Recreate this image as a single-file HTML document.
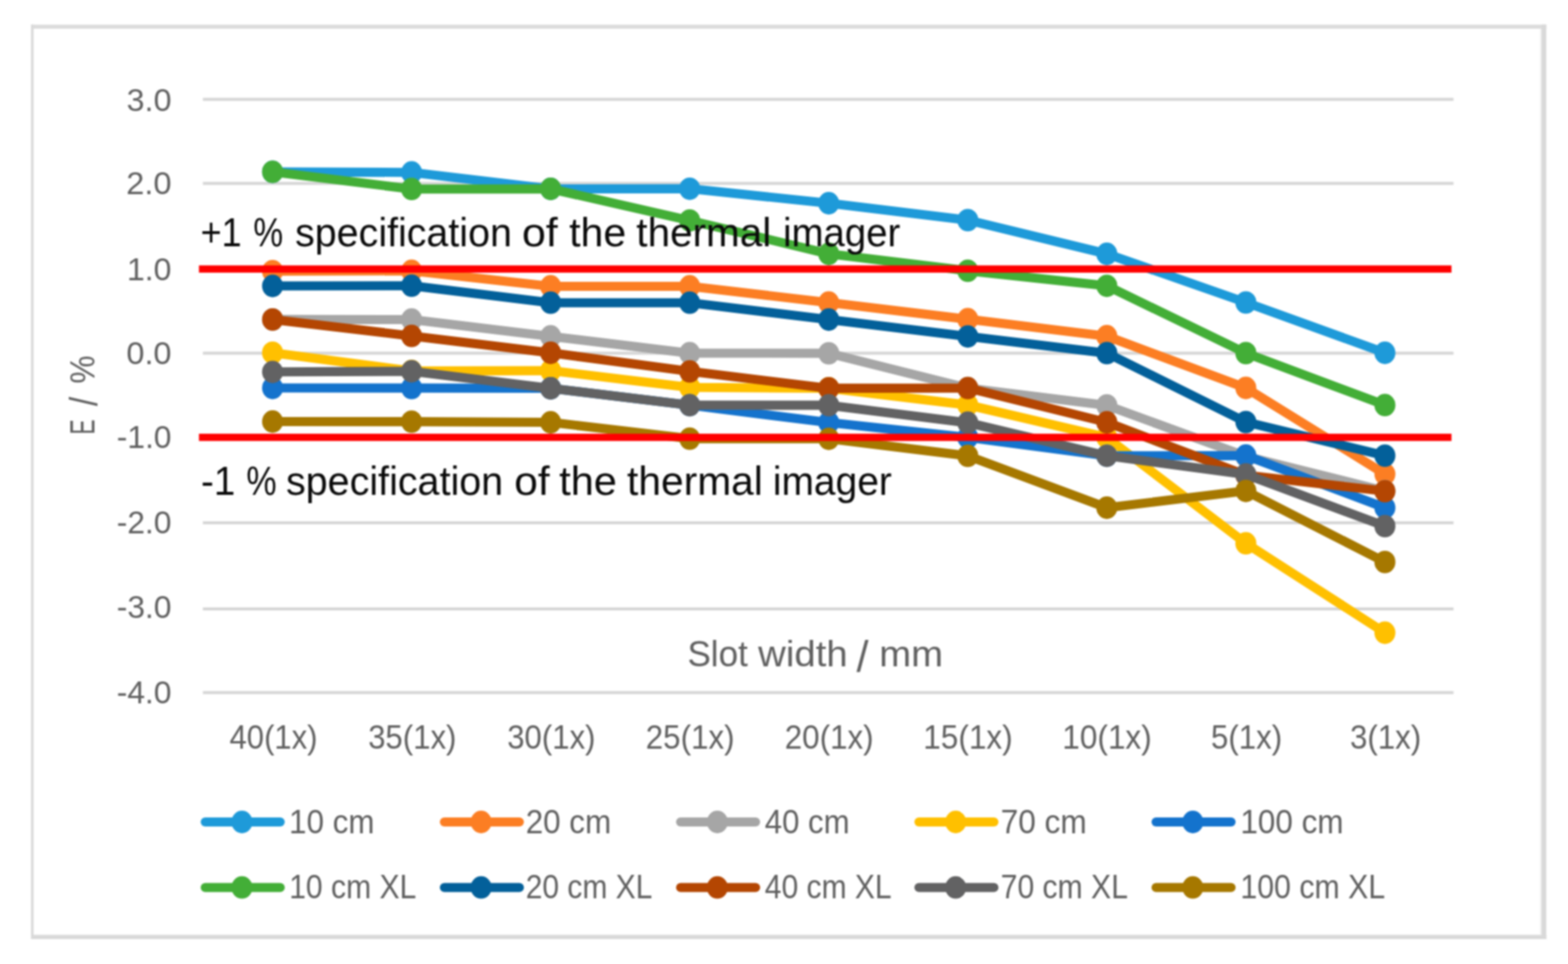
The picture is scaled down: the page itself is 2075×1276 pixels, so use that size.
<!DOCTYPE html>
<html><head><meta charset="utf-8"><title>Slot width chart</title>
<style>html,body{margin:0;padding:0;background:#fff;}svg{display:block;filter:blur(1px);}text{font-family:'Liberation Sans', Arial, sans-serif;}</style></head><body>
<svg width="2075" height="1276" viewBox="0 0 2075 1276">
<rect x="0" y="0" width="2075" height="1276" fill="#ffffff"/>
<g fill="#d9d9d9">
<rect x="41" y="32.6" width="2005.3" height="5.4" fill="#dcdcdc"/>
<rect x="41" y="1237.4" width="2005.3" height="5.6"/>
<rect x="41" y="32.6" width="3.4" height="1210.4"/>
<rect x="2040" y="32.6" width="6.3" height="1210.4"/>
<rect x="2037.8" y="38" width="2.2" height="1199.4" fill="#f2f2f2"/>
</g>
<g stroke="#d6d6d6" stroke-width="4">
<line x1="268.5" y1="131.4" x2="1923.5" y2="131.4"/>
<line x1="268.5" y1="242.7" x2="1923.5" y2="242.7"/>
<line x1="268.5" y1="467.5" x2="1923.5" y2="467.5"/>
<line x1="268.5" y1="692.0" x2="1923.5" y2="692.0"/>
<line x1="268.5" y1="805.9" x2="1923.5" y2="805.9"/>
<line x1="268.5" y1="916.8" x2="1923.5" y2="916.8"/>
</g>
<g fill="#606060" font-size="43.3">
<text x="167.56" y="146.5" textLength="59.40" lengthAdjust="spacingAndGlyphs">3.0</text>
<text x="166.98" y="257.3" textLength="60.00" lengthAdjust="spacingAndGlyphs">2.0</text>
<text x="168.05" y="371.3" textLength="58.90" lengthAdjust="spacingAndGlyphs">1.0</text>
<text x="167.26" y="482.3" textLength="59.71" lengthAdjust="spacingAndGlyphs">0.0</text>
<text x="154.59" y="593.4" textLength="72.36" lengthAdjust="spacingAndGlyphs">-1.0</text>
<text x="154.49" y="706.4" textLength="72.46" lengthAdjust="spacingAndGlyphs">-2.0</text>
<text x="154.38" y="818.2" textLength="72.56" lengthAdjust="spacingAndGlyphs">-3.0</text>
<text x="154.38" y="931.0" textLength="72.56" lengthAdjust="spacingAndGlyphs">-4.0</text>
</g>
<text fill="#606060" font-size="45.3" transform="translate(124.7 573) rotate(-90)"><tspan x="-2.36" y="0" font-size="45.3" textLength="20.12" lengthAdjust="spacingAndGlyphs">E</tspan> <tspan x="35.60" y="4.5" font-size="52" textLength="12.25" lengthAdjust="spacingAndGlyphs">/</tspan> <tspan x="65.19" y="0" font-size="45.3" textLength="37.26" lengthAdjust="spacingAndGlyphs">%</tspan></text>
<polyline points="360.7,227.5 544.7,228.2 728.7,250.0 912.7,249.8 1096.7,269.0 1280.7,291.4 1464.7,336.0 1648.7,400.4 1832.7,467.0" fill="none" stroke="#1e9ad9" stroke-width="12.1" stroke-linejoin="round" stroke-linecap="round"/>
<ellipse cx="360.7" cy="227.5" rx="13.9" ry="14.9" fill="#1e9ad9"/>
<ellipse cx="544.7" cy="228.2" rx="13.9" ry="14.9" fill="#1e9ad9"/>
<ellipse cx="728.7" cy="250.0" rx="13.9" ry="14.9" fill="#1e9ad9"/>
<ellipse cx="912.7" cy="249.8" rx="13.9" ry="14.9" fill="#1e9ad9"/>
<ellipse cx="1096.7" cy="269.0" rx="13.9" ry="14.9" fill="#1e9ad9"/>
<ellipse cx="1280.7" cy="291.4" rx="13.9" ry="14.9" fill="#1e9ad9"/>
<ellipse cx="1464.7" cy="336.0" rx="13.9" ry="14.9" fill="#1e9ad9"/>
<ellipse cx="1648.7" cy="400.4" rx="13.9" ry="14.9" fill="#1e9ad9"/>
<ellipse cx="1832.7" cy="467.0" rx="13.9" ry="14.9" fill="#1e9ad9"/>
<polyline points="360.7,358.9 544.7,358.5 728.7,379.0 912.7,379.0 1096.7,400.5 1280.7,422.5 1464.7,445.0 1648.7,513.5 1832.7,627.5" fill="none" stroke="#fc7e23" stroke-width="12.1" stroke-linejoin="round" stroke-linecap="round"/>
<ellipse cx="360.7" cy="358.9" rx="13.9" ry="14.9" fill="#fc7e23"/>
<ellipse cx="544.7" cy="358.5" rx="13.9" ry="14.9" fill="#fc7e23"/>
<ellipse cx="728.7" cy="379.0" rx="13.9" ry="14.9" fill="#fc7e23"/>
<ellipse cx="912.7" cy="379.0" rx="13.9" ry="14.9" fill="#fc7e23"/>
<ellipse cx="1096.7" cy="400.5" rx="13.9" ry="14.9" fill="#fc7e23"/>
<ellipse cx="1280.7" cy="422.5" rx="13.9" ry="14.9" fill="#fc7e23"/>
<ellipse cx="1464.7" cy="445.0" rx="13.9" ry="14.9" fill="#fc7e23"/>
<ellipse cx="1648.7" cy="513.5" rx="13.9" ry="14.9" fill="#fc7e23"/>
<ellipse cx="1832.7" cy="627.5" rx="13.9" ry="14.9" fill="#fc7e23"/>
<polyline points="360.7,422.9 544.7,423.0 728.7,445.2 912.7,467.5 1096.7,467.6 1280.7,513.7 1464.7,536.6 1648.7,604.0 1832.7,650.0" fill="none" stroke="#a6a6a6" stroke-width="12.1" stroke-linejoin="round" stroke-linecap="round"/>
<ellipse cx="360.7" cy="422.9" rx="13.9" ry="14.9" fill="#a6a6a6"/>
<ellipse cx="544.7" cy="423.0" rx="13.9" ry="14.9" fill="#a6a6a6"/>
<ellipse cx="728.7" cy="445.2" rx="13.9" ry="14.9" fill="#a6a6a6"/>
<ellipse cx="912.7" cy="467.5" rx="13.9" ry="14.9" fill="#a6a6a6"/>
<ellipse cx="1096.7" cy="467.6" rx="13.9" ry="14.9" fill="#a6a6a6"/>
<ellipse cx="1280.7" cy="513.7" rx="13.9" ry="14.9" fill="#a6a6a6"/>
<ellipse cx="1464.7" cy="536.6" rx="13.9" ry="14.9" fill="#a6a6a6"/>
<ellipse cx="1648.7" cy="604.0" rx="13.9" ry="14.9" fill="#a6a6a6"/>
<ellipse cx="1832.7" cy="650.0" rx="13.9" ry="14.9" fill="#a6a6a6"/>
<polyline points="360.7,466.9 544.7,491.0 728.7,490.6 912.7,512.8 1096.7,514.0 1280.7,536.0 1464.7,579.0 1648.7,719.2 1832.7,837.5" fill="none" stroke="#ffc000" stroke-width="12.1" stroke-linejoin="round" stroke-linecap="round"/>
<ellipse cx="360.7" cy="466.9" rx="13.9" ry="14.9" fill="#ffc000"/>
<ellipse cx="544.7" cy="491.0" rx="13.9" ry="14.9" fill="#ffc000"/>
<ellipse cx="728.7" cy="490.6" rx="13.9" ry="14.9" fill="#ffc000"/>
<ellipse cx="912.7" cy="512.8" rx="13.9" ry="14.9" fill="#ffc000"/>
<ellipse cx="1096.7" cy="514.0" rx="13.9" ry="14.9" fill="#ffc000"/>
<ellipse cx="1280.7" cy="536.0" rx="13.9" ry="14.9" fill="#ffc000"/>
<ellipse cx="1464.7" cy="579.0" rx="13.9" ry="14.9" fill="#ffc000"/>
<ellipse cx="1648.7" cy="719.2" rx="13.9" ry="14.9" fill="#ffc000"/>
<ellipse cx="1832.7" cy="837.5" rx="13.9" ry="14.9" fill="#ffc000"/>
<polyline points="360.7,513.5 544.7,513.6 728.7,514.0 912.7,536.3 1096.7,559.3 1280.7,579.0 1464.7,603.3 1648.7,603.0 1832.7,672.0" fill="none" stroke="#1473cd" stroke-width="12.1" stroke-linejoin="round" stroke-linecap="round"/>
<ellipse cx="360.7" cy="513.5" rx="13.9" ry="14.9" fill="#1473cd"/>
<ellipse cx="544.7" cy="513.6" rx="13.9" ry="14.9" fill="#1473cd"/>
<ellipse cx="728.7" cy="514.0" rx="13.9" ry="14.9" fill="#1473cd"/>
<ellipse cx="912.7" cy="536.3" rx="13.9" ry="14.9" fill="#1473cd"/>
<ellipse cx="1096.7" cy="559.3" rx="13.9" ry="14.9" fill="#1473cd"/>
<ellipse cx="1280.7" cy="579.0" rx="13.9" ry="14.9" fill="#1473cd"/>
<ellipse cx="1464.7" cy="603.3" rx="13.9" ry="14.9" fill="#1473cd"/>
<ellipse cx="1648.7" cy="603.0" rx="13.9" ry="14.9" fill="#1473cd"/>
<ellipse cx="1832.7" cy="672.0" rx="13.9" ry="14.9" fill="#1473cd"/>
<polyline points="360.7,227.4 544.7,250.2 728.7,250.0 912.7,291.8 1096.7,336.0 1280.7,358.4 1464.7,378.3 1648.7,467.4 1832.7,536.2" fill="none" stroke="#43ae37" stroke-width="12.1" stroke-linejoin="round" stroke-linecap="round"/>
<ellipse cx="360.7" cy="227.4" rx="13.9" ry="14.9" fill="#43ae37"/>
<ellipse cx="544.7" cy="250.2" rx="13.9" ry="14.9" fill="#43ae37"/>
<ellipse cx="728.7" cy="250.0" rx="13.9" ry="14.9" fill="#43ae37"/>
<ellipse cx="912.7" cy="291.8" rx="13.9" ry="14.9" fill="#43ae37"/>
<ellipse cx="1096.7" cy="336.0" rx="13.9" ry="14.9" fill="#43ae37"/>
<ellipse cx="1280.7" cy="358.4" rx="13.9" ry="14.9" fill="#43ae37"/>
<ellipse cx="1464.7" cy="378.3" rx="13.9" ry="14.9" fill="#43ae37"/>
<ellipse cx="1648.7" cy="467.4" rx="13.9" ry="14.9" fill="#43ae37"/>
<ellipse cx="1832.7" cy="536.2" rx="13.9" ry="14.9" fill="#43ae37"/>
<polyline points="360.7,378.5 544.7,378.2 728.7,400.7 912.7,400.7 1096.7,423.0 1280.7,445.3 1464.7,467.4 1648.7,558.6 1832.7,603.1" fill="none" stroke="#03609a" stroke-width="12.1" stroke-linejoin="round" stroke-linecap="round"/>
<ellipse cx="360.7" cy="378.5" rx="13.9" ry="14.9" fill="#03609a"/>
<ellipse cx="544.7" cy="378.2" rx="13.9" ry="14.9" fill="#03609a"/>
<ellipse cx="728.7" cy="400.7" rx="13.9" ry="14.9" fill="#03609a"/>
<ellipse cx="912.7" cy="400.7" rx="13.9" ry="14.9" fill="#03609a"/>
<ellipse cx="1096.7" cy="423.0" rx="13.9" ry="14.9" fill="#03609a"/>
<ellipse cx="1280.7" cy="445.3" rx="13.9" ry="14.9" fill="#03609a"/>
<ellipse cx="1464.7" cy="467.4" rx="13.9" ry="14.9" fill="#03609a"/>
<ellipse cx="1648.7" cy="558.6" rx="13.9" ry="14.9" fill="#03609a"/>
<ellipse cx="1832.7" cy="603.1" rx="13.9" ry="14.9" fill="#03609a"/>
<polyline points="360.7,422.9 544.7,444.7 728.7,467.0 912.7,491.6 1096.7,513.9 1280.7,513.7 1464.7,559.0 1648.7,629.0 1832.7,650.1" fill="none" stroke="#b44602" stroke-width="12.1" stroke-linejoin="round" stroke-linecap="round"/>
<ellipse cx="360.7" cy="422.9" rx="13.9" ry="14.9" fill="#b44602"/>
<ellipse cx="544.7" cy="444.7" rx="13.9" ry="14.9" fill="#b44602"/>
<ellipse cx="728.7" cy="467.0" rx="13.9" ry="14.9" fill="#b44602"/>
<ellipse cx="912.7" cy="491.6" rx="13.9" ry="14.9" fill="#b44602"/>
<ellipse cx="1096.7" cy="513.9" rx="13.9" ry="14.9" fill="#b44602"/>
<ellipse cx="1280.7" cy="513.7" rx="13.9" ry="14.9" fill="#b44602"/>
<ellipse cx="1464.7" cy="559.0" rx="13.9" ry="14.9" fill="#b44602"/>
<ellipse cx="1648.7" cy="629.0" rx="13.9" ry="14.9" fill="#b44602"/>
<ellipse cx="1832.7" cy="650.1" rx="13.9" ry="14.9" fill="#b44602"/>
<polyline points="360.7,492.3 544.7,491.5 728.7,514.0 912.7,536.3 1096.7,536.4 1280.7,559.5 1464.7,603.3 1648.7,628.0 1832.7,696.4" fill="none" stroke="#626263" stroke-width="12.1" stroke-linejoin="round" stroke-linecap="round"/>
<ellipse cx="360.7" cy="492.3" rx="13.9" ry="14.9" fill="#626263"/>
<ellipse cx="544.7" cy="491.5" rx="13.9" ry="14.9" fill="#626263"/>
<ellipse cx="728.7" cy="514.0" rx="13.9" ry="14.9" fill="#626263"/>
<ellipse cx="912.7" cy="536.3" rx="13.9" ry="14.9" fill="#626263"/>
<ellipse cx="1096.7" cy="536.4" rx="13.9" ry="14.9" fill="#626263"/>
<ellipse cx="1280.7" cy="559.5" rx="13.9" ry="14.9" fill="#626263"/>
<ellipse cx="1464.7" cy="603.3" rx="13.9" ry="14.9" fill="#626263"/>
<ellipse cx="1648.7" cy="628.0" rx="13.9" ry="14.9" fill="#626263"/>
<ellipse cx="1832.7" cy="696.4" rx="13.9" ry="14.9" fill="#626263"/>
<polyline points="360.7,558.0 544.7,558.1 728.7,559.0 912.7,580.6 1096.7,580.8 1280.7,603.4 1464.7,672.0 1648.7,649.8 1832.7,743.9" fill="none" stroke="#a67800" stroke-width="12.1" stroke-linejoin="round" stroke-linecap="round"/>
<ellipse cx="360.7" cy="558.0" rx="13.9" ry="14.9" fill="#a67800"/>
<ellipse cx="544.7" cy="558.1" rx="13.9" ry="14.9" fill="#a67800"/>
<ellipse cx="728.7" cy="559.0" rx="13.9" ry="14.9" fill="#a67800"/>
<ellipse cx="912.7" cy="580.6" rx="13.9" ry="14.9" fill="#a67800"/>
<ellipse cx="1096.7" cy="580.8" rx="13.9" ry="14.9" fill="#a67800"/>
<ellipse cx="1280.7" cy="603.4" rx="13.9" ry="14.9" fill="#a67800"/>
<ellipse cx="1464.7" cy="672.0" rx="13.9" ry="14.9" fill="#a67800"/>
<ellipse cx="1648.7" cy="649.8" rx="13.9" ry="14.9" fill="#a67800"/>
<ellipse cx="1832.7" cy="743.9" rx="13.9" ry="14.9" fill="#a67800"/>
<g fill="#ff0000">
<rect x="263.3" y="351.3" width="1657.5" height="9.6"/>
<rect x="263.3" y="574.1" width="1657.5" height="9.6"/>
</g>
<text fill="#0a0a0a" font-size="53.0"><tspan x="265.47" y="326.2" textLength="54.26" lengthAdjust="spacingAndGlyphs">+1</tspan> <tspan x="335.22" y="326.2" textLength="39.40" lengthAdjust="spacingAndGlyphs">%</tspan> <tspan x="390.49" y="326.2" textLength="286.94" lengthAdjust="spacingAndGlyphs">specification</tspan> <tspan x="690.72" y="326.2" textLength="47.38" lengthAdjust="spacingAndGlyphs">of</tspan> <tspan x="753.30" y="326.2" textLength="75.40" lengthAdjust="spacingAndGlyphs">the</tspan> <tspan x="842.00" y="326.2" textLength="178.63" lengthAdjust="spacingAndGlyphs">thermal</tspan> <tspan x="1036.13" y="326.2" textLength="155.22" lengthAdjust="spacingAndGlyphs">imager</tspan></text>
<text fill="#0a0a0a" font-size="53.0"><tspan x="266.11" y="654.5" textLength="45.36" lengthAdjust="spacingAndGlyphs">-1</tspan> <tspan x="326.09" y="654.5" textLength="40.05" lengthAdjust="spacingAndGlyphs">%</tspan> <tspan x="378.48" y="654.5" textLength="287.35" lengthAdjust="spacingAndGlyphs">specification</tspan> <tspan x="680.44" y="654.5" textLength="46.86" lengthAdjust="spacingAndGlyphs">of</tspan> <tspan x="740.00" y="654.5" textLength="76.43" lengthAdjust="spacingAndGlyphs">the</tspan> <tspan x="829.80" y="654.5" textLength="179.75" lengthAdjust="spacingAndGlyphs">thermal</tspan> <tspan x="1022.78" y="654.5" textLength="157.47" lengthAdjust="spacingAndGlyphs">imager</tspan></text>
<text fill="#606060" font-size="48.5"><tspan x="909.65" y="882.2" textLength="79.99" lengthAdjust="spacingAndGlyphs">Slot</tspan> <tspan x="1003.39" y="882.2" textLength="118.35" lengthAdjust="spacingAndGlyphs">width</tspan> <tspan x="1133.38" y="888.6" font-size="57">/</tspan> <tspan x="1163.43" y="882.2" textLength="84.49" lengthAdjust="spacingAndGlyphs">mm</tspan></text>
<g fill="#606060" font-size="44.2">
<text x="303.81" y="991" textLength="116.26" lengthAdjust="spacingAndGlyphs">40(1x)</text>
<text x="487.16" y="991" textLength="116.92" lengthAdjust="spacingAndGlyphs">35(1x)</text>
<text x="671.16" y="991" textLength="116.92" lengthAdjust="spacingAndGlyphs">30(1x)</text>
<text x="854.51" y="991" textLength="117.59" lengthAdjust="spacingAndGlyphs">25(1x)</text>
<text x="1038.51" y="991" textLength="117.59" lengthAdjust="spacingAndGlyphs">20(1x)</text>
<text x="1221.84" y="991" textLength="118.27" lengthAdjust="spacingAndGlyphs">15(1x)</text>
<text x="1405.84" y="991" textLength="118.27" lengthAdjust="spacingAndGlyphs">10(1x)</text>
<text x="1602.40" y="991" textLength="94.44" lengthAdjust="spacingAndGlyphs">5(1x)</text>
<text x="1786.40" y="991" textLength="94.44" lengthAdjust="spacingAndGlyphs">3(1x)</text>
</g>
<g font-size="44.0" fill="#606060">
<line x1="271.6" y1="1088.0" x2="370.8" y2="1088.0" stroke="#1e9ad9" stroke-width="12.1" stroke-linecap="round"/>
<ellipse cx="320.2" cy="1088.0" rx="13.9" ry="14.9" fill="#1e9ad9"/>
<text x="382.61" y="1102.8" textLength="112.83" lengthAdjust="spacingAndGlyphs">10 cm</text>
<line x1="588.1" y1="1088.0" x2="687.3" y2="1088.0" stroke="#fc7e23" stroke-width="12.1" stroke-linecap="round"/>
<ellipse cx="636.7" cy="1088.0" rx="13.9" ry="14.9" fill="#fc7e23"/>
<text x="695.65" y="1102.8" textLength="113.10" lengthAdjust="spacingAndGlyphs">20 cm</text>
<line x1="900.7" y1="1088.0" x2="999.9" y2="1088.0" stroke="#a6a6a6" stroke-width="12.1" stroke-linecap="round"/>
<ellipse cx="949.3" cy="1088.0" rx="13.9" ry="14.9" fill="#a6a6a6"/>
<text x="1012.06" y="1102.8" textLength="112.28" lengthAdjust="spacingAndGlyphs">40 cm</text>
<line x1="1216.1" y1="1088.0" x2="1315.3" y2="1088.0" stroke="#ffc000" stroke-width="12.1" stroke-linecap="round"/>
<ellipse cx="1264.7" cy="1088.0" rx="13.9" ry="14.9" fill="#ffc000"/>
<text x="1324.14" y="1102.8" textLength="113.93" lengthAdjust="spacingAndGlyphs">70 cm</text>
<line x1="1529.9" y1="1088.0" x2="1629.1" y2="1088.0" stroke="#1473cd" stroke-width="12.1" stroke-linecap="round"/>
<ellipse cx="1578.5" cy="1088.0" rx="13.9" ry="14.9" fill="#1473cd"/>
<text x="1641.40" y="1102.8" textLength="136.56" lengthAdjust="spacingAndGlyphs">100 cm</text>
<line x1="271.6" y1="1174.7" x2="370.8" y2="1174.7" stroke="#43ae37" stroke-width="12.1" stroke-linecap="round"/>
<ellipse cx="320.2" cy="1174.7" rx="13.9" ry="14.9" fill="#43ae37"/>
<text x="382.71" y="1188.6" textLength="168.18" lengthAdjust="spacingAndGlyphs">10 cm XL</text>
<line x1="588.1" y1="1174.7" x2="687.3" y2="1174.7" stroke="#03609a" stroke-width="12.1" stroke-linecap="round"/>
<ellipse cx="636.7" cy="1174.7" rx="13.9" ry="14.9" fill="#03609a"/>
<text x="695.74" y="1188.6" textLength="167.55" lengthAdjust="spacingAndGlyphs">20 cm XL</text>
<line x1="900.7" y1="1174.7" x2="999.9" y2="1174.7" stroke="#b44602" stroke-width="12.1" stroke-linecap="round"/>
<ellipse cx="949.3" cy="1174.7" rx="13.9" ry="14.9" fill="#b44602"/>
<text x="1012.08" y="1188.6" textLength="167.91" lengthAdjust="spacingAndGlyphs">40 cm XL</text>
<line x1="1216.1" y1="1174.7" x2="1315.3" y2="1174.7" stroke="#626263" stroke-width="12.1" stroke-linecap="round"/>
<ellipse cx="1264.7" cy="1174.7" rx="13.9" ry="14.9" fill="#626263"/>
<text x="1324.23" y="1188.6" textLength="168.36" lengthAdjust="spacingAndGlyphs">70 cm XL</text>
<line x1="1529.9" y1="1174.7" x2="1629.1" y2="1174.7" stroke="#a67800" stroke-width="12.1" stroke-linecap="round"/>
<ellipse cx="1578.5" cy="1174.7" rx="13.9" ry="14.9" fill="#a67800"/>
<text x="1641.50" y="1188.6" textLength="191.50" lengthAdjust="spacingAndGlyphs">100 cm XL</text>
</g>
</svg></body></html>
